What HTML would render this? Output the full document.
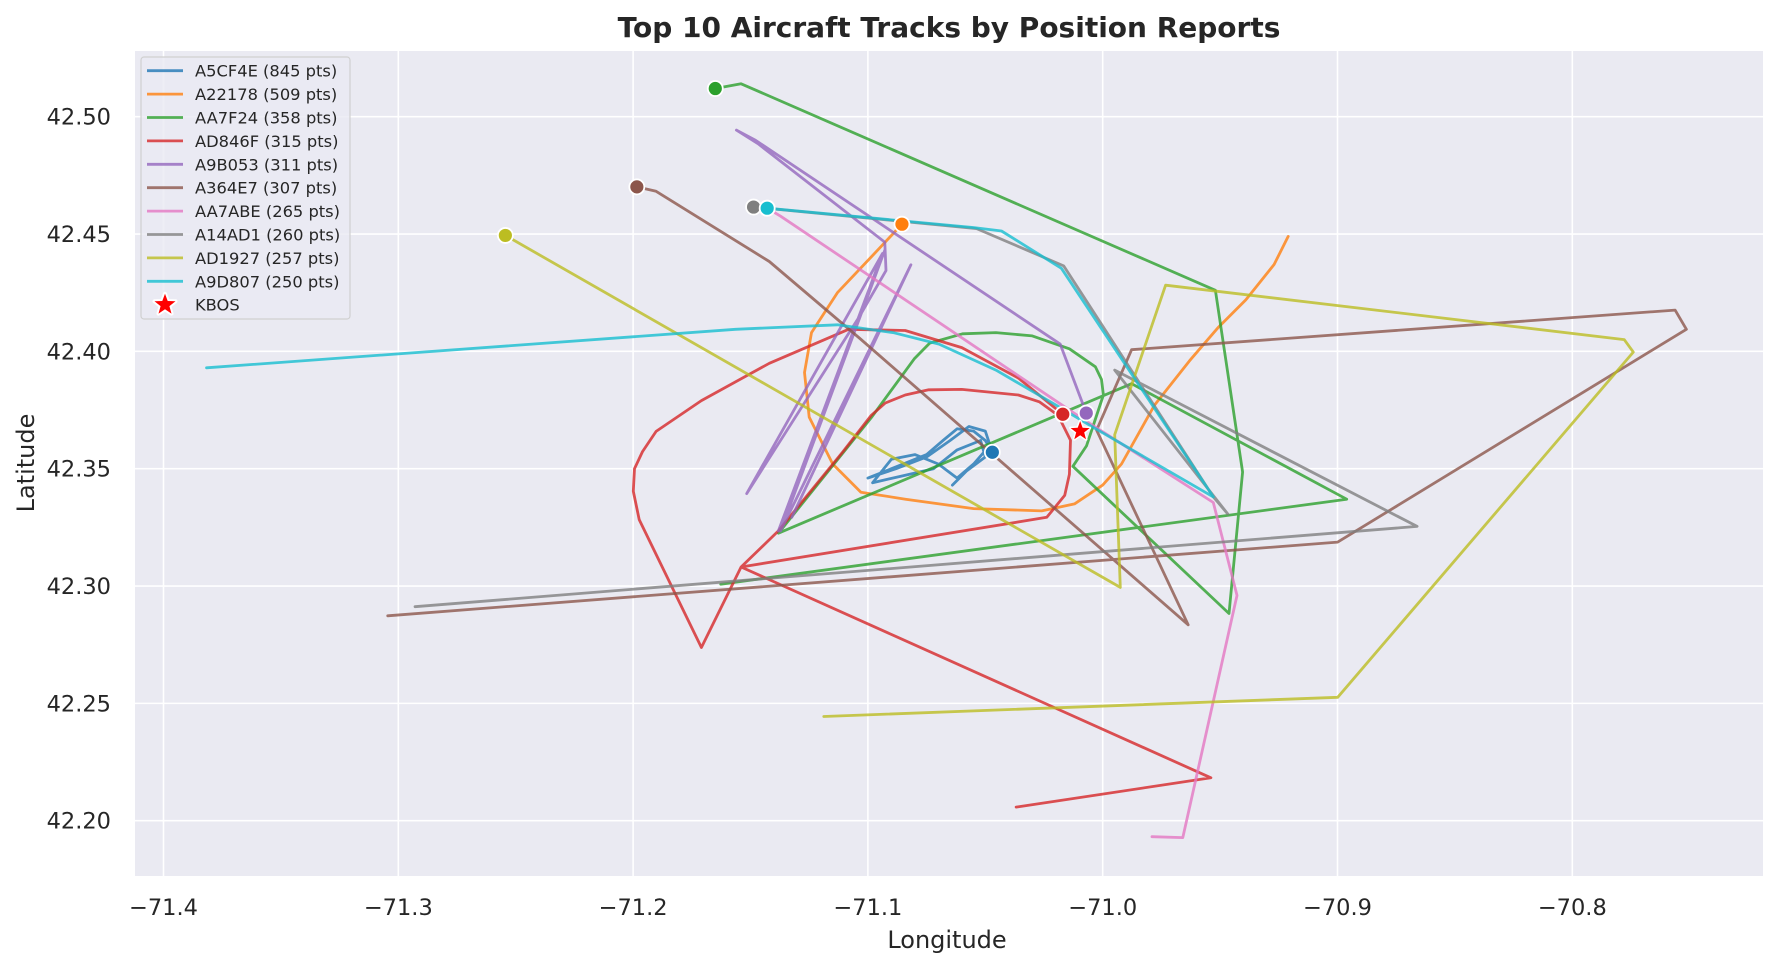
<!DOCTYPE html>
<html><head><meta charset="utf-8"><style>
html,body{margin:0;padding:0;background:#fff;}
svg{display:block;font-family:"DejaVu Sans","Liberation Sans",sans-serif;}
</style></head><body>
<svg id="chart" width="1776" height="967" viewBox="0 0 1776 967">
<rect x="135" y="51" width="1628" height="825" fill="#eaeaf2"/>
<g id="grid"></g>
<g id="tracks"></g>
<g id="ticks"></g>
<text x="949" y="37" text-anchor="middle" font-size="28" font-weight="bold" fill="#262626">Top 10 Aircraft Tracks by Position Reports</text>
<text x="947" y="948" text-anchor="middle" font-size="24" fill="#262626">Longitude</text>
<text x="0" y="0" transform="translate(34,463) rotate(-90)" text-anchor="middle" font-size="24" fill="#262626">Latitude</text>
<g id="legend"></g>
</svg>
<script>
const xTicks = [-71.4, -71.3, -71.2, -71.1, -71.0, -70.9, -70.8];
const xTickLabels = ["\u221271.4","\u221271.3","\u221271.2","\u221271.1","\u221271.0","\u221270.9","\u221270.8"];
const yTicks = [42.20, 42.25, 42.30, 42.35, 42.40, 42.45, 42.50];
const yTickLabels = ["42.20","42.25","42.30","42.35","42.40","42.45","42.50"];
const trackIds = ["A5CF4E","A22178","AA7F24","AD846F","A9B053","A364E7","AA7ABE","A14AD1","AD1927","A9D807"];
const trackPts = [845,509,358,315,311,307,265,260,257,250];
const colors = ["#1f77b4","#ff7f0e","#2ca02c","#d62728","#9467bd","#8c564b","#e377c2","#7f7f7f","#bcbd22","#17becf"];

const lonA5CF4E = [-71.047,-71.05,-71.055,-71.062,-71.068,-71.075,-71.085,-71.095,-71.10,-71.088,-71.075,-71.065,-71.057,-71.05,-71.048,-71.055,-71.062,-71.07,-71.08,-71.09,-71.098,-71.085,-71.072,-71.062,-71.052,-71.05,-71.058,-71.064];
const latA5CF4E = [42.357,42.362,42.366,42.367,42.362,42.356,42.352,42.348,42.346,42.350,42.355,42.362,42.368,42.366,42.36,42.352,42.346,42.352,42.356,42.354,42.344,42.347,42.35,42.358,42.362,42.355,42.349,42.343];
const lonA22178 = [-71.0855,-71.095,-71.113,-71.124,-71.127,-71.125,-71.115,-71.103,-71.084,-71.055,-71.026,-71.012,-71.0,-70.992,-70.978,-70.963,-70.951,-70.939,-70.927,-70.921];
const latA22178 = [42.4542,42.444,42.425,42.408,42.391,42.372,42.352,42.340,42.337,42.333,42.332,42.335,42.343,42.352,42.377,42.396,42.410,42.422,42.437,42.449];
const lonAA7F24 = [-71.165,-71.154,-70.952,-70.9404,-70.9462,-71.0127,-71.0069,-70.9997,-71.0005,-71.0031,-71.0142,-71.03,-71.0455,-71.0597,-71.0737,-71.0803,-71.0986,-71.1381,-70.9877,-70.8961,-71.1627];
const latAA7F24 = [42.512,42.514,42.426,42.3486,42.2883,42.3510,42.3597,42.3814,42.3880,42.3934,42.4011,42.4066,42.4080,42.4075,42.4035,42.3968,42.3717,42.3225,42.3862,42.3370,42.3008];
const lonAD846F = [-71.017,-71.0359,-71.06,-71.0841,-71.1082,-71.142,-71.1709,-71.1902,-71.196,-71.1994,-71.1999,-71.1974,-71.1709,-71.154,-71.0238,-71.0162,-71.0142,-71.0137,-71.019,-71.027,-71.0359,-71.06,-71.0741,-71.0841,-71.0926,-71.0986,-71.1106,-71.1323,-71.1381,-71.154,-70.9539,-71.0369];
const latAD846F = [42.3732,42.3886,42.4016,42.4089,42.4094,42.3949,42.379,42.3659,42.3573,42.35,42.3404,42.3283,42.2738,42.3081,42.3293,42.3386,42.3476,42.3621,42.3727,42.3785,42.3814,42.3838,42.3836,42.3814,42.3780,42.3727,42.3573,42.3307,42.3235,42.3081,42.2183,42.2058];
const lonA9B053 = [-71.007,-71.0181,-71.1478,-71.156,-71.1468,-71.0928,-71.0923,-71.1034,-71.1516,-71.0938,-71.1381,-71.0928,-71.1372,-71.0817,-71.1324];
const latA9B053 = [42.3737,42.4031,42.4899,42.4943,42.4885,42.4465,42.4344,42.4152,42.3394,42.4417,42.3235,42.4431,42.3235,42.4369,42.3293];
const lonA364E7 = [-71.1984,-71.1902,-71.142,-71.1034,-70.9636,-71.0026,-70.9877,-70.7562,-70.7514,-70.8999,-71.3045];
const latA364E7 = [42.4701,42.4682,42.4383,42.4055,42.2835,42.3664,42.4007,42.4176,42.4094,42.3187,42.2873];
const lonAA7ABE = [-71.1429,-71.1372,-71.0079,-70.9529,-70.9428,-70.9659,-70.979];
const latAA7ABE = [42.461,42.4576,42.3708,42.3356,42.296,42.1928,42.1932];
const lonA14AD1 = [-71.1487,-71.0537,-71.0166,-70.9529,-70.9467,-70.9949,-70.8661,-71.2929];
const latA14AD1 = [42.4615,42.4523,42.4364,42.338,42.3307,42.392,42.3254,42.2912];
const lonAD1927 = [-71.2544,-70.9925,-70.9949,-70.9732,-70.7779,-70.774,-70.8999,-71.1188];
const latAD1927 = [42.4494,42.2994,42.3645,42.4282,42.405,42.3997,42.2526,42.2444];
const lonA9D807 = [-71.1429,-71.0552,-71.0431,-71.0176,-70.9529,-71.0045,-71.019,-71.0455,-71.0697,-71.0889,-71.113,-71.1564,-71.3817];
const latA9D807 = [42.461,42.4528,42.4513,42.4354,42.338,42.3679,42.3766,42.392,42.4031,42.4079,42.4113,42.4094,42.393];
const kbosLon = [-71.0096];
const kbosLat = [42.3660];

const trackLons = [lonA5CF4E,lonA22178,lonAA7F24,lonAD846F,lonA9B053,lonA364E7,lonAA7ABE,lonA14AD1,lonAD1927,lonA9D807];
const trackLats = [latA5CF4E,latA22178,latAA7F24,latAD846F,latA9B053,latA364E7,latAA7ABE,latA14AD1,latAD1927,latA9D807];

const NS = "http://www.w3.org/2000/svg";
function xs(lon){ return 163.5 + (lon + 71.4) * 2348; }
function ys(lat){ return 820.7 - (lat - 42.2) * 2346.7; }
function mk(tag, attrs, parent){ const e = document.createElementNS(NS, tag); for (const k in attrs) e.setAttribute(k, attrs[k]); parent.appendChild(e); return e; }

const grid = document.getElementById('grid');
const ticks = document.getElementById('ticks');
xTicks.forEach((v,i) => {
  const l = mk('line', {x1: xs(v), x2: xs(v), y1: 51, y2: 876, stroke: '#fff', 'stroke-width': 1.6}, grid);
  
  
  const t = mk('text', {x: xs(v), y: 915, 'text-anchor': 'middle', 'font-size': 22.5, fill: '#262626'}, ticks);
  t.textContent = xTickLabels[i];
  
  
});
yTicks.forEach((v,i) => {
  const l = mk('line', {x1: 135, x2: 1763, y1: ys(v), y2: ys(v), stroke: '#fff', 'stroke-width': 1.6}, grid);
  
  
  const t = mk('text', {x: 111, y: ys(v) + 8, 'text-anchor': 'end', 'font-size': 22.5, fill: '#262626'}, ticks);
  t.textContent = yTickLabels[i];
  
  
});

const tracksG = document.getElementById('tracks');
trackLons.forEach((lons, i) => {
  const lats = trackLats[i];
  const pts = lons.map((lo, j) => xs(lo).toFixed(1) + ',' + ys(lats[j]).toFixed(1)).join(' ');
  const p = mk('polyline', {points: pts, fill: 'none', stroke: colors[i], 'stroke-width': 2.8, 'stroke-opacity': 0.8, 'stroke-linejoin': 'round', 'stroke-linecap': 'round'}, tracksG);
  
  
});
trackLons.forEach((lons, i) => {
  const c = mk('circle', {cx: xs(lons[0]), cy: ys(trackLats[i][0]), r: 7.5, fill: colors[i], stroke: '#fff', 'stroke-width': 1.8}, tracksG);
  
  
});
function starPts(cx, cy, R){
  const r = R * 0.42; const a = [];
  for (let k = 0; k < 10; k++){ const ang = -Math.PI/2 + k*Math.PI/5; const rr = k%2 ? r : R; a.push((cx+rr*Math.cos(ang)).toFixed(1)+','+(cy+rr*Math.sin(ang)).toFixed(1)); }
  return a.join(' ');
}
const star = mk('polygon', {points: starPts(xs(kbosLon[0]), ys(kbosLat[0]), 10), fill: '#ff0000', stroke: '#fff', 'stroke-width': 3, 'stroke-linejoin': 'round', 'paint-order': 'stroke'}, tracksG);



const leg = document.getElementById('legend');
const box = mk('rect', {x: 141, y: 57, width: 209, height: 262, rx: 3, fill: '#eaeaf2', 'fill-opacity': 0.8, stroke: '#d0d0d0', 'stroke-width': 1.2}, leg);


trackIds.forEach((id, i) => {
  const y = 70.7 + i * 23.4;
  const l = mk('line', {x1: 147, x2: 183, y1: y, y2: y, stroke: colors[i], 'stroke-width': 2.8, 'stroke-opacity': 0.8}, leg);
  
  
  const t = mk('text', {x: 195, y: y + 6, 'font-size': 16.3, fill: '#262626'}, leg);
  t.textContent = id + ' (' + trackPts[i] + ' pts)';
  
  
});
const ky = 70.7 + 10 * 23.4;
const ks = mk('polygon', {points: starPts(165, ky, 11), fill: '#ff0000', stroke: '#fff', 'stroke-width': 4, 'stroke-linejoin': 'round', 'paint-order': 'stroke'}, leg);


const kt = mk('text', {x: 195, y: ky + 6, 'font-size': 16.3, fill: '#262626'}, leg);
kt.textContent = 'KBOS';


</script>
</body></html>
